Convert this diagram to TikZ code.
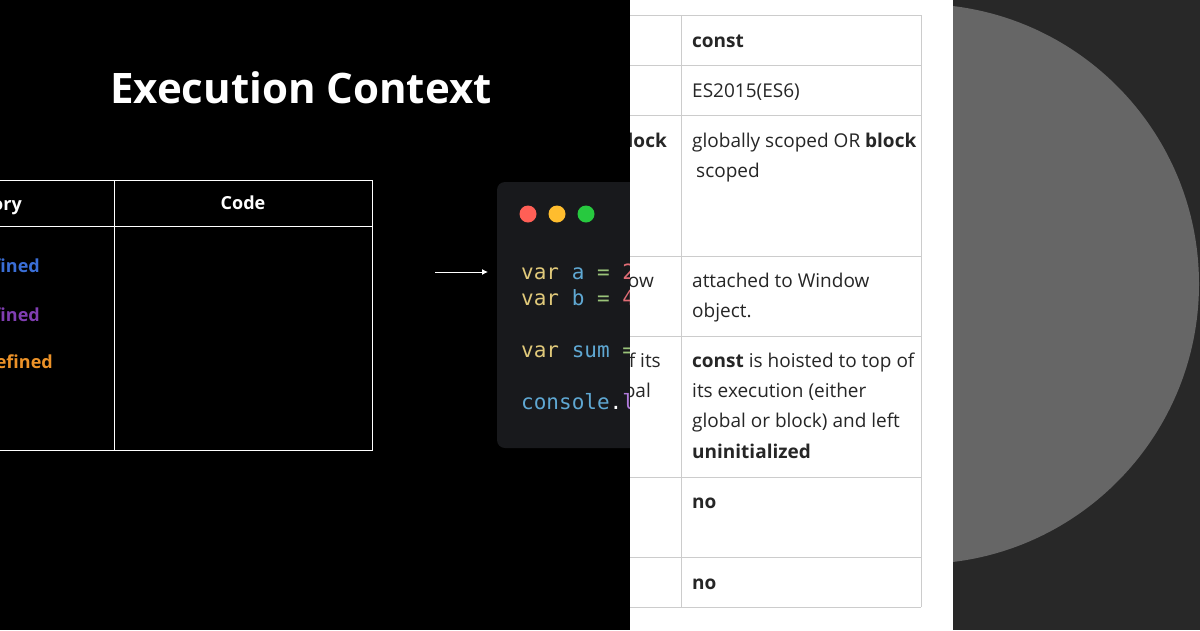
\documentclass[tikz,border=0pt]{standalone}
\usepackage{fontspec}
\usetikzlibrary{arrows.meta}
\setmainfont{Open Sans}
\setmonofont{DejaVu Sans Mono}
\definecolor{cy}{HTML}{E0C97A}\definecolor{cb}{HTML}{5FA8D3}\definecolor{cg}{HTML}{9BC47A}
\definecolor{cr}{HTML}{E06C75}\definecolor{cp}{HTML}{B07ADB}
\definecolor{ublue}{RGB}{58,110,214}\definecolor{upurple}{RGB}{128,62,178}\definecolor{uorange}{RGB}{236,146,40}
\definecolor{winbg}{RGB}{24,25,28}\definecolor{dred}{RGB}{255,95,86}\definecolor{dyel}{RGB}{255,189,46}\definecolor{dgrn}{RGB}{39,201,63}
\definecolor{rdark}{RGB}{40,40,40}\definecolor{rgray}{RGB}{102,102,102}
\begin{document}
\begin{tikzpicture}[x=1pt,y=-1pt,
  tline/.style={draw=black!20,line width=1pt},
  ttext/.style={anchor=base west,font=\fontsize{19}{28}\selectfont,text=black!85,inner sep=0},
  ctext/.style={anchor=base west,font=\ttfamily\fontsize{21}{26}\selectfont,inner sep=0},
  ltext/.style={anchor=base east,font=\bfseries\fontsize{18}{22}\selectfont,inner sep=0}]
\useasboundingbox (0,0) rectangle (1200,630);
\fill[black] (0,0) rectangle (1200,630);
\begin{scope}
\clip (0,0) rectangle (1200,630);
\node[font=\bfseries\fontsize{42}{50}\selectfont,text=white] (title) at (301,88) {Execution Context};
\draw[white,line width=1pt] (-20,180) rectangle (372,450);
\draw[white,line width=1pt] (-20,226) -- (372,226);
\draw[white,line width=1pt] (114,180) -- (114,450);
\node[font=\bfseries\fontsize{18}{22}\selectfont,text=white] (code) at (243,203) {Code};
\node[ltext,text=white] (mem) at (22,210) {Memory};
\node[ltext,text=ublue] (u1) at (40,272) {undefined};
\node[ltext,text=upurple] (u2) at (40,321) {undefined};
\node[ltext,text=uorange] (u3) at (53,368) {undefined};
\coordinate (as) at (435,272);
\coordinate (ae) at (488,272);
\draw[white,line width=1pt,-{Latex[length=6pt,width=6pt]}] (as) -- (ae);
\fill[winbg,rounded corners=8pt] (497,182) rectangle (700,448);
\fill[dred] (528,214) circle (8.5);
\fill[dyel] (557,214) circle (8.5);
\fill[dgrn] (586,214) circle (8.5);
\node[ctext] (l1) at (521,279) {\textcolor{cy}{var} \textcolor{cb}{a} \textcolor{cg}{=} \textcolor{cr}{2;}};
\node[ctext] (l2) at (521,305) {\textcolor{cy}{var} \textcolor{cb}{b} \textcolor{cg}{=} \textcolor{cr}{4;}};
\node[ctext] (l3) at (521,357) {\textcolor{cy}{var} \textcolor{cb}{sum} \textcolor{cg}{=} \textcolor{cb}{a}};
\node[ctext] (l4) at (521,409) {\textcolor{cb}{console}\textcolor{white}{.}\textcolor{cp}{log}};
\fill[white] (630,0) rectangle (953,630);
\begin{scope}
\clip (630,0) rectangle (953,630);
\foreach \yy in {15,65,115,256,336,477,557,607} \draw[tline] (600,\yy) -- (921,\yy);
\draw[tline] (681,15) -- (681,607);
\draw[tline] (921,15) -- (921,607);
\node[ttext,anchor=base east,font=\bfseries\fontsize{19}{28}\selectfont] (lb) at (667,147) {block};
\node[ttext,anchor=base east] (lw) at (654,287) {Window};
\node[ttext,anchor=base east] (li) at (661,367) {of its};
\node[ttext,anchor=base east] (lg) at (651,397) {global};
\node[ttext] (c1) at (692,47) {\textbf{const}};
\node[ttext] (c2) at (692,97) {ES2015(ES6)};
\node[ttext] (c3a) at (692,147) {globally scoped OR \textbf{block}};
\node[ttext] (c3b) at (696,177) {scoped};
\node[ttext] (c4a) at (692,287) {attached to Window};
\node[ttext] (c4b) at (692,317) {object.};
\node[ttext] (c5a) at (692,367) {\textbf{const} is hoisted to top of};
\node[ttext] (c5b) at (692,397) {its execution (either};
\node[ttext] (c5c) at (692,427) {global or block) and left};
\node[ttext] (c5d) at (692,458) {\textbf{uninitialized}};
\node[ttext] (c6) at (692,508) {\textbf{no}};
\node[ttext] (c7) at (692,589) {\textbf{no}};
\end{scope}
\fill[rdark] (953,0) rectangle (1200,630);
\begin{scope}
\clip (953,0) rectangle (1200,630);
\fill[rgray] (919,284) circle (280);
\end{scope}
\end{scope}
\end{tikzpicture}
\end{document}
